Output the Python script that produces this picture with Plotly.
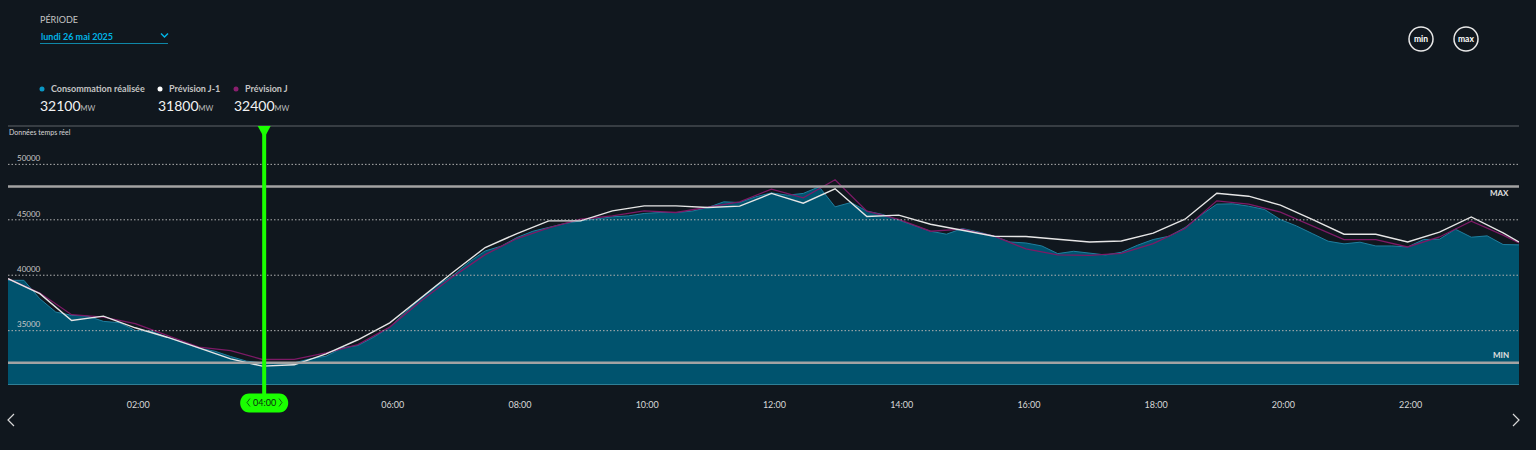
"""Courbe de consommation électrique, vue temps réel."""
from __future__ import annotations

import pandas as pd
import plotly.graph_objects as go

FONT = "Lato"
BG = "#10171e"
GREEN = "#1aff00"
CYAN = "#00b4e6"
TEAL = "#00536e"

WIDTH, HEIGHT = 1536, 450
LEFT, RIGHT, TOP, BOTTOM = 8, 1519, 126, 384

REALISE = [
    39540, 39540, 37880, 36680, 36380, 36320, 35840, 35720, 35020, 34960, 34420, 33970,
    33420, 33150, 32670, 32250, 32100, 32100, 32100, 32460, 32700, 33450, 33660, 34420,
    35320, 36680, 37950, 39090, 40000, 41200, 42190, 42620, 43400, 43970, 44300, 44660,
    44900, 45110, 45270, 45350, 45570, 45660, 45660, 45780, 46110, 46620, 46560, 47070,
    47430, 47220, 47380, 47980, 46170, 46560, 45780, 45480, 44960, 44510, 43970, 43700,
    44210, 43910, 43520, 43000, 42910, 42640, 41950, 42160, 41980, 41830, 42070, 42700,
    43220, 43520, 44300, 45420, 46410, 46440, 46230, 45930, 45020, 44450, 43760, 43070,
    42830, 42980, 42640, 42640, 42550, 43220, 43250, 44150, 43430, 43550, 42770, 42740,
]
PREVISION_J1 = [
    39690, 38340, 35920, 36310, 35260, 34410, 33450, 32460, 31800, 31920, 32910, 34180,
    35710, 38030, 40290, 42500, 43760, 44900, 44900, 45800, 46260, 46260, 46110, 46230,
    47380, 46500, 47800, 45300, 45420, 44600, 44060, 43520, 43490, 43220, 43000, 43090,
    43800, 45050, 47400, 47130, 46320, 45030, 43700, 43700, 43000, 43880, 45260, 43810,
    43000,
]
PREVISION_J = [
    39690, 38400, 36440, 36220, 35630, 34570, 33510, 33210, 32400, 32420, 33000, 33750,
    35320, 37730, 39900, 41860, 43310, 44270, 45050, 45350, 45800, 45660, 46110, 46620,
    47770, 46980, 48610, 45780, 45030, 43970, 44150, 43520, 42370, 41830, 41800, 41980,
    42860, 44210, 46710, 46410, 45690, 44420, 43220, 43220, 42550, 43450, 44870, 43610,
    42910,
]
Y_TICKS = [35000, 40000, 45000, 50000]
X_TICKS = ["02:00", "06:00", "08:00", "10:00", "12:00", "14:00", "16:00", "18:00", "20:00", "22:00"]
VALEUR_MAX = 48000
VALEUR_MIN = 32100
CURSEUR = "04:00"
JOUR = "2025-05-26"


def px(x):
    return (x - LEFT) / (RIGHT - LEFT)


def py(y):
    return (BOTTOM - y) / (BOTTOM - TOP)


def label(fig, x, y, text, size, color="#d8d8d8", anchor="left"):
    fig.add_annotation(
        x=px(x), y=py(y), xref="paper", yref="paper", text=text, showarrow=False,
        xanchor=anchor, yanchor="middle", borderpad=0,
        font=dict(family=FONT, size=size, color=color),
    )


def stroke(fig, points, color, width=1.0):
    path = "M " + " L ".join(f"{px(x):.5f},{py(y):.5f}" for x, y in points)
    fig.add_shape(type="path", xref="paper", yref="paper", path=path, line=dict(color=color, width=width))


times_15 = pd.date_range(JOUR, periods=96, freq="15min")
times_30 = list(pd.date_range(JOUR, periods=48, freq="30min")) + [times_15[-1]]
cursor_time = pd.Timestamp(f"{JOUR} {CURSEUR}")

fig = go.Figure()
fig.add_trace(go.Scatter(
    x=times_15, y=REALISE, mode="lines", name="Consommation réalisée",
    fill="tozeroy", fillcolor=TEAL, line=dict(color="#1f7f9f", width=1),
))
fig.add_trace(go.Scatter(
    x=times_30, y=PREVISION_J, mode="lines", name="Prévision J",
    line=dict(color="#7d1a66", width=1.3),
))
fig.add_trace(go.Scatter(
    x=times_30, y=PREVISION_J1, mode="lines", name="Prévision J-1",
    line=dict(color="#e6e6e6", width=1.4),
))

fig.update_layout(
    width=WIDTH, height=HEIGHT, autosize=False,
    paper_bgcolor=BG, plot_bgcolor=BG, showlegend=False,
    margin=dict(l=LEFT, r=WIDTH - RIGHT, t=TOP, b=HEIGHT - BOTTOM, pad=0),
    font=dict(family=FONT, color="#d8d8d8"),
    xaxis=dict(
        type="date", range=[times_15[0], times_15[-1]],
        tickvals=[pd.Timestamp(f"{JOUR} {t}") for t in X_TICKS], ticktext=X_TICKS,
        showgrid=False, zeroline=False, showline=True, linecolor="#2f7f96", linewidth=1,
        ticks="", ticklabelstandoff=12, ticklabelshift=3, tickfont=dict(size=9, color="#d8d8d8"),
    ),
    yaxis=dict(
        range=[30190, 53460], tickvals=Y_TICKS, tickformat="d", showgrid=False, zeroline=False,
        ticks="", ticklabelposition="inside", ticklabelstandoff=6, ticklabelshift=-6,
        tickfont=dict(size=8, color="#c8c8c8"),
    ),
)

for value in Y_TICKS:
    fig.add_hline(y=value, line=dict(color="#b0b0b0", width=1, dash="1.5px,2px"))
for value in (VALEUR_MAX, VALEUR_MIN):
    fig.add_hline(y=value, line=dict(color="#a3a3a3", width=2.5))
stroke(fig, [(LEFT, TOP), (RIGHT, TOP)], "#5f6468", 1.2)

# curseur vert
fig.add_shape(
    type="line", xsizemode="pixel", xanchor=cursor_time, x0=1.7, x1=1.7,
    xref="x", yref="paper", y0=py(403), y1=1, line=dict(color=GREEN, width=4),
)
fig.add_shape(
    type="path", xref="x", yref="paper", xsizemode="pixel", ysizemode="pixel",
    xanchor=cursor_time, yanchor=1, path="M -4.8,0 L 8.2,0 L 1.7,-12 Z",
    fillcolor=GREEN, line=dict(width=0),
)
fig.add_shape(
    type="path", xref="x", yref="paper", xsizemode="pixel", ysizemode="pixel",
    xanchor=cursor_time, yanchor=py(403),
    path="M -13.3,-9.5 L 16.7,-9.5 C 28.7,-9.5 28.7,9.5 16.7,9.5 L -13.3,9.5 C -25.3,9.5 -25.3,-9.5 -13.3,-9.5 Z",
    fillcolor=GREEN, line=dict(width=0),
)
label(fig, 264.5, 402, CURSEUR, 9, "#0b2a10", "center")
stroke(fig, [(250, 398.5), (247, 402.5), (250, 406.5)], "#0b5a10", 0.9)
stroke(fig, [(279, 398.5), (282, 402.5), (279, 406.5)], "#0b5a10", 0.9)

label(fig, 39, 20, "PÉRIODE", 9, "#c4c4c4")
label(fig, 40, 36, "<b>lundi 26 mai 2025</b>", 9, CYAN)
stroke(fig, [(40, 43.5), (168, 43.5)], "#1089aa", 1)
stroke(fig, [(161, 33.5), (164.5, 37), (168, 33.5)], CYAN, 1.4)

for cx, text in ((1421, "min"), (1466, "max")):
    fig.add_shape(
        type="circle", xref="paper", yref="paper",
        x0=px(cx - 12), x1=px(cx + 12), y0=py(51), y1=py(27),
        line=dict(color="#e8e8e8", width=1.5),
    )
    label(fig, cx, 39, f"<b>{text}</b>", 8.5, "#ffffff", "center")

legend_items = [
    (42, 50, "Consommation réalisée", "#0a97c4", 39, "32100"),
    (160, 168, "Prévision J-1", "#ffffff", 157, "31800"),
    (236, 244, "Prévision J", "#8a1f6e", 233, "32400"),
]
for dot_x, text_x, name, color, value_x, value in legend_items:
    fig.add_shape(
        type="circle", xref="paper", yref="paper", fillcolor=color, line=dict(width=0),
        x0=px(dot_x - 2.5), x1=px(dot_x + 2.5), y0=py(91.5), y1=py(86.5),
    )
    label(fig, text_x, 88, f"<b>{name}</b>", 9, "#c4c4c4")
    label(fig, value_x, 105, f'{value}<span style="font-size:7.5px;color:#bdbdbd">MW</span>', 14, "#f2f2f2")

label(fig, 8, 132, "Données temps réel", 7, "#d8d8d8")
label(fig, 1510, 193, "<b>MAX</b>", 8, "#e0e0e0", "right")
label(fig, 1510, 355, "<b>MIN</b>", 8, "#e0e0e0", "right")

stroke(fig, [(14, 414), (8, 420), (14, 426)], "#d8d8d8", 1.2)
stroke(fig, [(1513, 414), (1519, 420), (1513, 426)], "#d8d8d8", 1.2)

fig.write_html(
    "out.html",
    config={"displayModeBar": False},
    post_script="document.body.style.margin='0';document.body.style.overflow='hidden';",
)
